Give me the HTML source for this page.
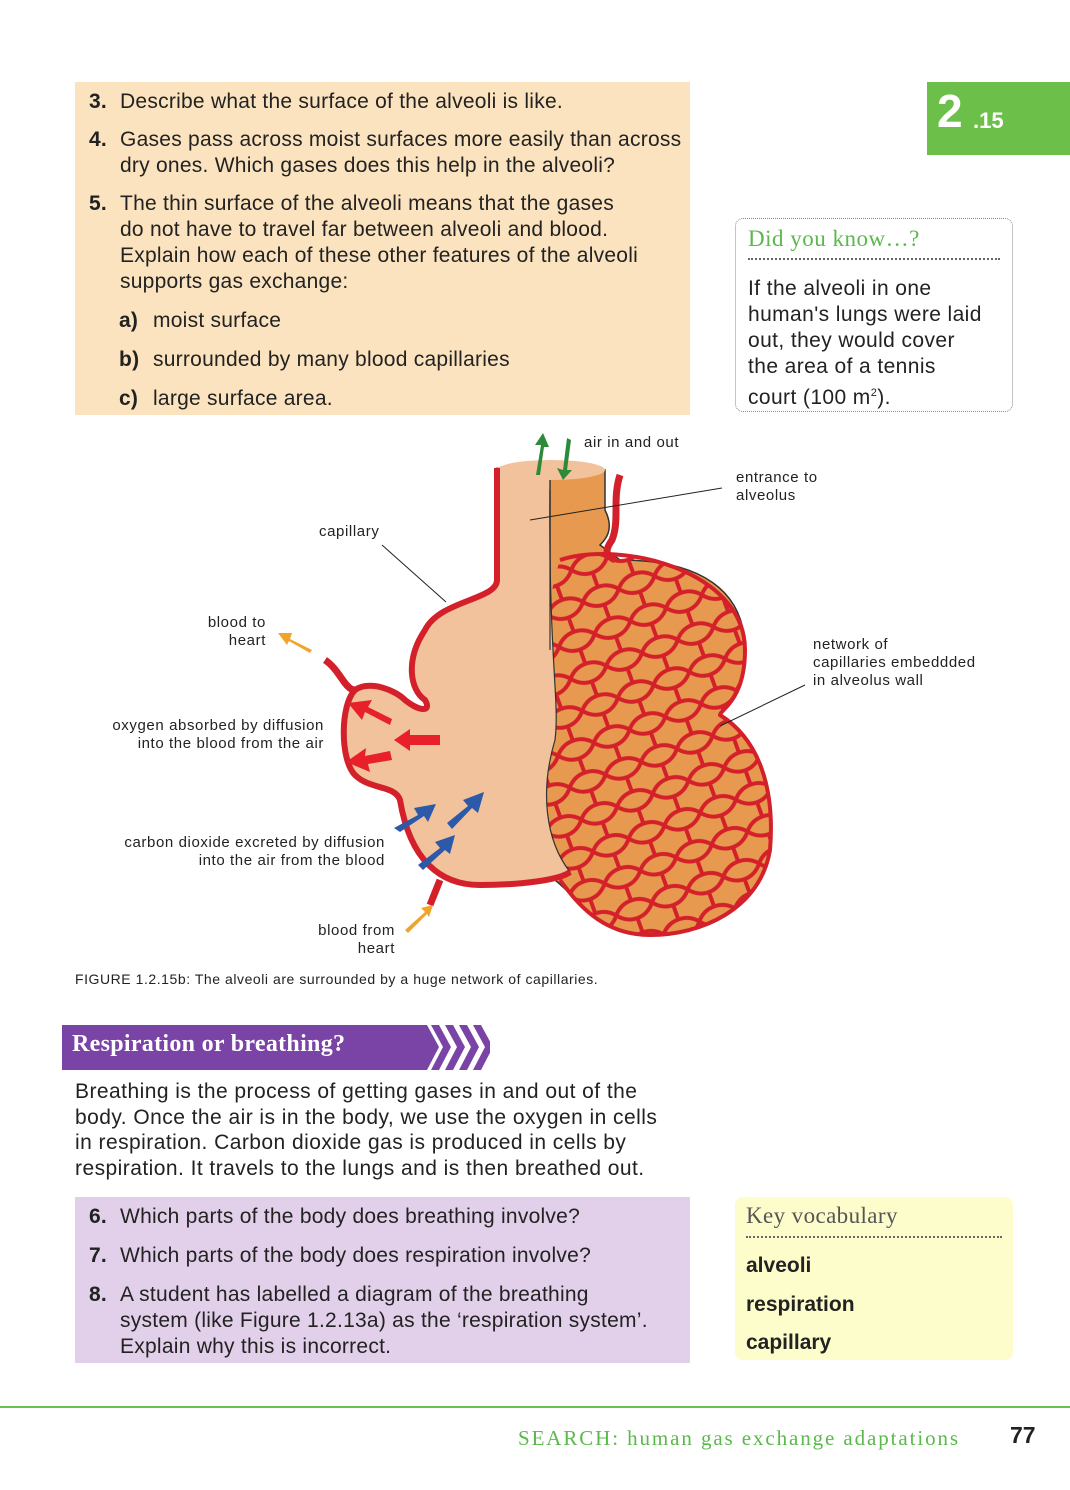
<!DOCTYPE html>
<html><head><meta charset="utf-8"><style>
body{margin:0;width:1070px;height:1490px;background:#fff;position:relative;font-family:"Liberation Sans",sans-serif;color:#222;overflow:hidden}
.a{position:absolute}
.q{font-size:21px;line-height:26px;letter-spacing:0.25px}
.q b{position:absolute;left:-31px}
.s b{left:-34px}
.lab{position:absolute;font-size:15px;line-height:18px;color:#222;letter-spacing:0.6px}
</style></head><body>
<div class="a" style="left:75px;top:82px;width:615px;height:333px;background:#fbe3bf"></div>
<div class="a q" style="left:120px;top:89px">
<div style="position:relative"><b>3.</b>Describe what the surface of the alveoli is like.</div>
<div style="position:relative;margin-top:12px"><b>4.</b>Gases pass across moist surfaces more easily than across<br>dry ones. Which gases does this help in the alveoli?</div>
<div style="position:relative;margin-top:12px"><b>5.</b>The thin surface of the alveoli means that the gases<br>do not have to travel far between alveoli and blood.<br>Explain how each of these other features of the alveoli<br>supports gas exchange:</div>
<div style="position:relative;margin-left:33px;margin-top:13px" class="s"><b>a)</b>moist surface</div>
<div style="position:relative;margin-left:33px;margin-top:13px" class="s"><b>b)</b>surrounded by many blood capillaries</div>
<div style="position:relative;margin-left:33px;margin-top:13px" class="s"><b>c)</b>large surface area.</div>
</div>
<div class="a" style="left:927px;top:82px;width:143px;height:73px;background:#6cc04a;color:#fff"><span style="position:absolute;left:10px;top:2px;font-size:46px;font-weight:bold">2</span><span style="position:absolute;left:46px;top:26px;font-size:22px;font-weight:bold">.15</span></div>
<div class="a" style="left:735px;top:218px;width:276px;height:192px;border:1.5px dotted #888;border-radius:8px"></div>
<div class="a" style="left:748px;top:226px;font-family:'Liberation Serif',serif;font-size:23px;color:#5ab94a;letter-spacing:0.5px">Did you know…?</div>
<div class="a" style="left:748px;top:258px;width:252px;border-top:2px dotted #666"></div>
<div class="a" style="left:748px;top:276px;font-size:21px;line-height:26px;letter-spacing:0.4px">If the alveoli in one<br>human's lungs were laid<br>out, they would cover<br>the area of a tennis<br>court (100 m<sup style="font-size:11px">2</sup>).</div>

<svg class="a" style="left:0;top:0" width="1070" height="1000">
<defs>
<pattern id="net" width="38" height="34" patternUnits="userSpaceOnUse" patternTransform="rotate(-20)">
<path d="M0,17 C10,5 28,5 38,17 M0,17 C10,30 28,30 38,17 M19,0 L19,8 M19,26 L19,34" fill="none" stroke="#d3202a" stroke-width="4"/>
</pattern>
<clipPath id="cb"><path d="M560,560 C620,540 745,570 745,650 C745,700 720,710 720,715 C760,740 775,790 770,850 C760,910 700,935 650,935 C600,935 575,900 560,880 C530,850 525,800 545,750 C560,720 548,690 548,640 C548,600 555,575 560,560Z"/></clipPath>
</defs>
<path d="M550,475 L605,470 L605,510 C615,530 605,540 600,545 L620,560 C700,560 745,590 745,650 C745,700 720,710 720,715 C760,740 775,790 770,850 C760,910 700,935 650,935 C600,935 580,900 555,880 C530,860 525,800 545,750 C560,720 550,690 550,650 Z" fill="#e79a4f" stroke="#333" stroke-width="1.5"/>
<g clip-path="url(#cb)"><rect x="520" y="540" width="270" height="400" fill="url(#net)"/></g>
<path d="M560,560 C620,540 745,570 745,650 C745,700 720,710 720,715 C760,740 775,790 770,850 C760,910 700,935 650,935 C600,935 575,900 560,880" fill="none" stroke="#d3202a" stroke-width="4"/>
<path d="M497,468 L497,580 C497,600 440,600 425,630 C405,660 410,690 425,700 C432,712 420,712 405,700 C395,690 370,680 355,690 C340,705 340,760 355,775 C370,790 395,785 400,800 C410,860 440,885 480,885 C520,885 560,880 570,872 C545,840 540,790 555,740 C560,700 548,660 550,475 Z" fill="#f1c29c" stroke="#333" stroke-width="1.2"/>
<ellipse cx="551" cy="470" rx="54" ry="10" fill="#f1c29c"/>
<path d="M497,468 L497,580 C497,600 440,600 425,630 C405,660 410,690 425,700 C432,712 420,712 405,700 C395,690 370,680 355,690 C340,705 340,760 355,775 C370,790 395,785 400,800 C410,860 440,885 480,885 C520,885 560,880 570,872" fill="none" stroke="#d3202a" stroke-width="6"/>
<path d="M325,660 C340,670 345,690 355,690 M440,880 L430,905 M620,475 C612,500 620,520 612,540 C605,550 605,555 615,560" fill="none" stroke="#d3202a" stroke-width="7"/>
<path d="M550,490 L550,650" stroke="#333" stroke-width="1.2"/>
<g fill="#2c8a3a"><path d="M536,475 L541,445 L535,445 L543,433 L549,447 L544,447 L540,475Z"/><path d="M567,438 L563,470 L557,468 L563,480 L572,470 L567,470 L571,440Z"/></g>
<g fill="#e8202a">
<path d="M390,725 L365,712 L362,720 L348,703 L372,700 L368,707 L392,719Z"/>
<path d="M440,735 L410,735 L410,729 L394,740 L410,751 L410,745 L440,745Z"/>
<path d="M390,751 L365,756 L366,748 L346,762 L370,772 L368,764 L392,760Z"/>
</g>
<g fill="#2d5aa8">
<path d="M394,828 L418,815 L414,808 L436,804 L428,822 L424,816 L400,832Z"/>
<path d="M447,823 L468,806 L463,800 L484,792 L478,813 L472,808 L452,829Z"/>
<path d="M418,865 L440,848 L435,842 L455,835 L450,854 L445,850 L423,870Z"/>
</g>
<g fill="#f0a52a">
<path d="M312,650 L290,639 L292,633 L278,633 L287,645 L289,641 L310,653Z"/>
<path d="M405,930 L425,912 L421,908 L433,905 L429,917 L427,914 L408,933Z"/>
</g>
<g stroke="#222" stroke-width="1" fill="none">
<path d="M530,520 L722,488"/><path d="M382,545 L446,602"/><path d="M720,726 L805,685"/>
</g>
</svg>
<div class="lab" style="left:584px;top:434px">air in and out</div>
<div class="lab" style="left:736px;top:469px">entrance to<br>alveolus</div>
<div class="lab" style="left:319px;top:523px">capillary</div>
<div class="lab" style="left:166px;top:614px;width:100px;text-align:right">blood to<br>heart</div>
<div class="lab" style="left:813px;top:636px">network of<br>capillaries embeddded<br>in alveolus wall</div>
<div class="lab" style="left:40px;top:717px;width:284px;text-align:right">oxygen absorbed by diffusion<br>into the blood from the air</div>
<div class="lab" style="left:60px;top:834px;width:325px;text-align:right">carbon dioxide excreted by diffusion<br>into the air from the blood</div>
<div class="lab" style="left:280px;top:922px;width:115px;text-align:right">blood from<br>heart</div>
<div class="lab" style="left:75px;top:970px;font-size:14px;letter-spacing:0.55px">FIGURE 1.2.15b: The alveoli are surrounded by a huge network of capillaries.</div>

<div class="a" style="left:62px;top:1025px;width:360px;height:45px;background:#7a43a6"></div>
<svg class="a" style="left:415px;top:1025px" width="75" height="45"><g fill="#7a43a6"><polygon points="0,0 12,0 24,22 12,45 0,45"/><polygon points="16,0 24,0 36,22 24,45 16,45 28,22"/><polygon points="30,0 38,0 50,22 38,45 30,45 42,22"/><polygon points="44,0 52,0 64,22 52,45 44,45 56,22"/><polygon points="58,0 66,0 78,22 66,45 58,45 70,22" /></g></svg>
<div class="a" style="left:72px;top:1031px;font-family:'Liberation Serif',serif;font-weight:bold;font-size:24px;color:#fff;letter-spacing:0.3px">Respiration or breathing?</div>
<div class="a" style="left:75px;top:1079px;font-size:21px;line-height:25.5px;letter-spacing:0.45px">Breathing is the process of getting gases in and out of the<br>body. Once the air is in the body, we use the oxygen in cells<br>in respiration. Carbon dioxide gas is produced in cells by<br>respiration. It travels to the lungs and is then breathed out.</div>
<div class="a" style="left:75px;top:1197px;width:615px;height:166px;background:#e2d0ea"></div>
<div class="a q" style="left:120px;top:1204px">
<div style="position:relative"><b>6.</b>Which parts of the body does breathing involve?</div>
<div style="position:relative;margin-top:13px"><b>7.</b>Which parts of the body does respiration involve?</div>
<div style="position:relative;margin-top:13px"><b>8.</b>A student has labelled a diagram of the breathing<br>system (like Figure 1.2.13a) as the ‘respiration system’.<br>Explain why this is incorrect.</div>
</div>
<div class="a" style="left:735px;top:1197px;width:278px;height:163px;background:#fdfccb;border-radius:8px"></div>
<div class="a" style="left:746px;top:1203px;font-family:'Liberation Serif',serif;font-size:23px;color:#555;letter-spacing:0.4px">Key vocabulary</div>
<div class="a" style="left:746px;top:1236px;width:256px;border-top:2px dotted #666"></div>
<div class="a" style="left:746px;top:1247px;font-size:21px;font-weight:bold;line-height:38.5px">alveoli<br>respiration<br>capillary</div>
<div class="a" style="left:0;top:1406px;width:1070px;height:2px;background:#6cc04a"></div>
<div class="a" style="left:518px;top:1426px;font-family:'Liberation Serif',serif;font-size:21px;color:#5ab94a;letter-spacing:1.9px">SEARCH: human gas exchange adaptations</div>
<div class="a" style="left:1010px;top:1422px;font-size:23px;font-weight:bold">77</div>
</body></html>
